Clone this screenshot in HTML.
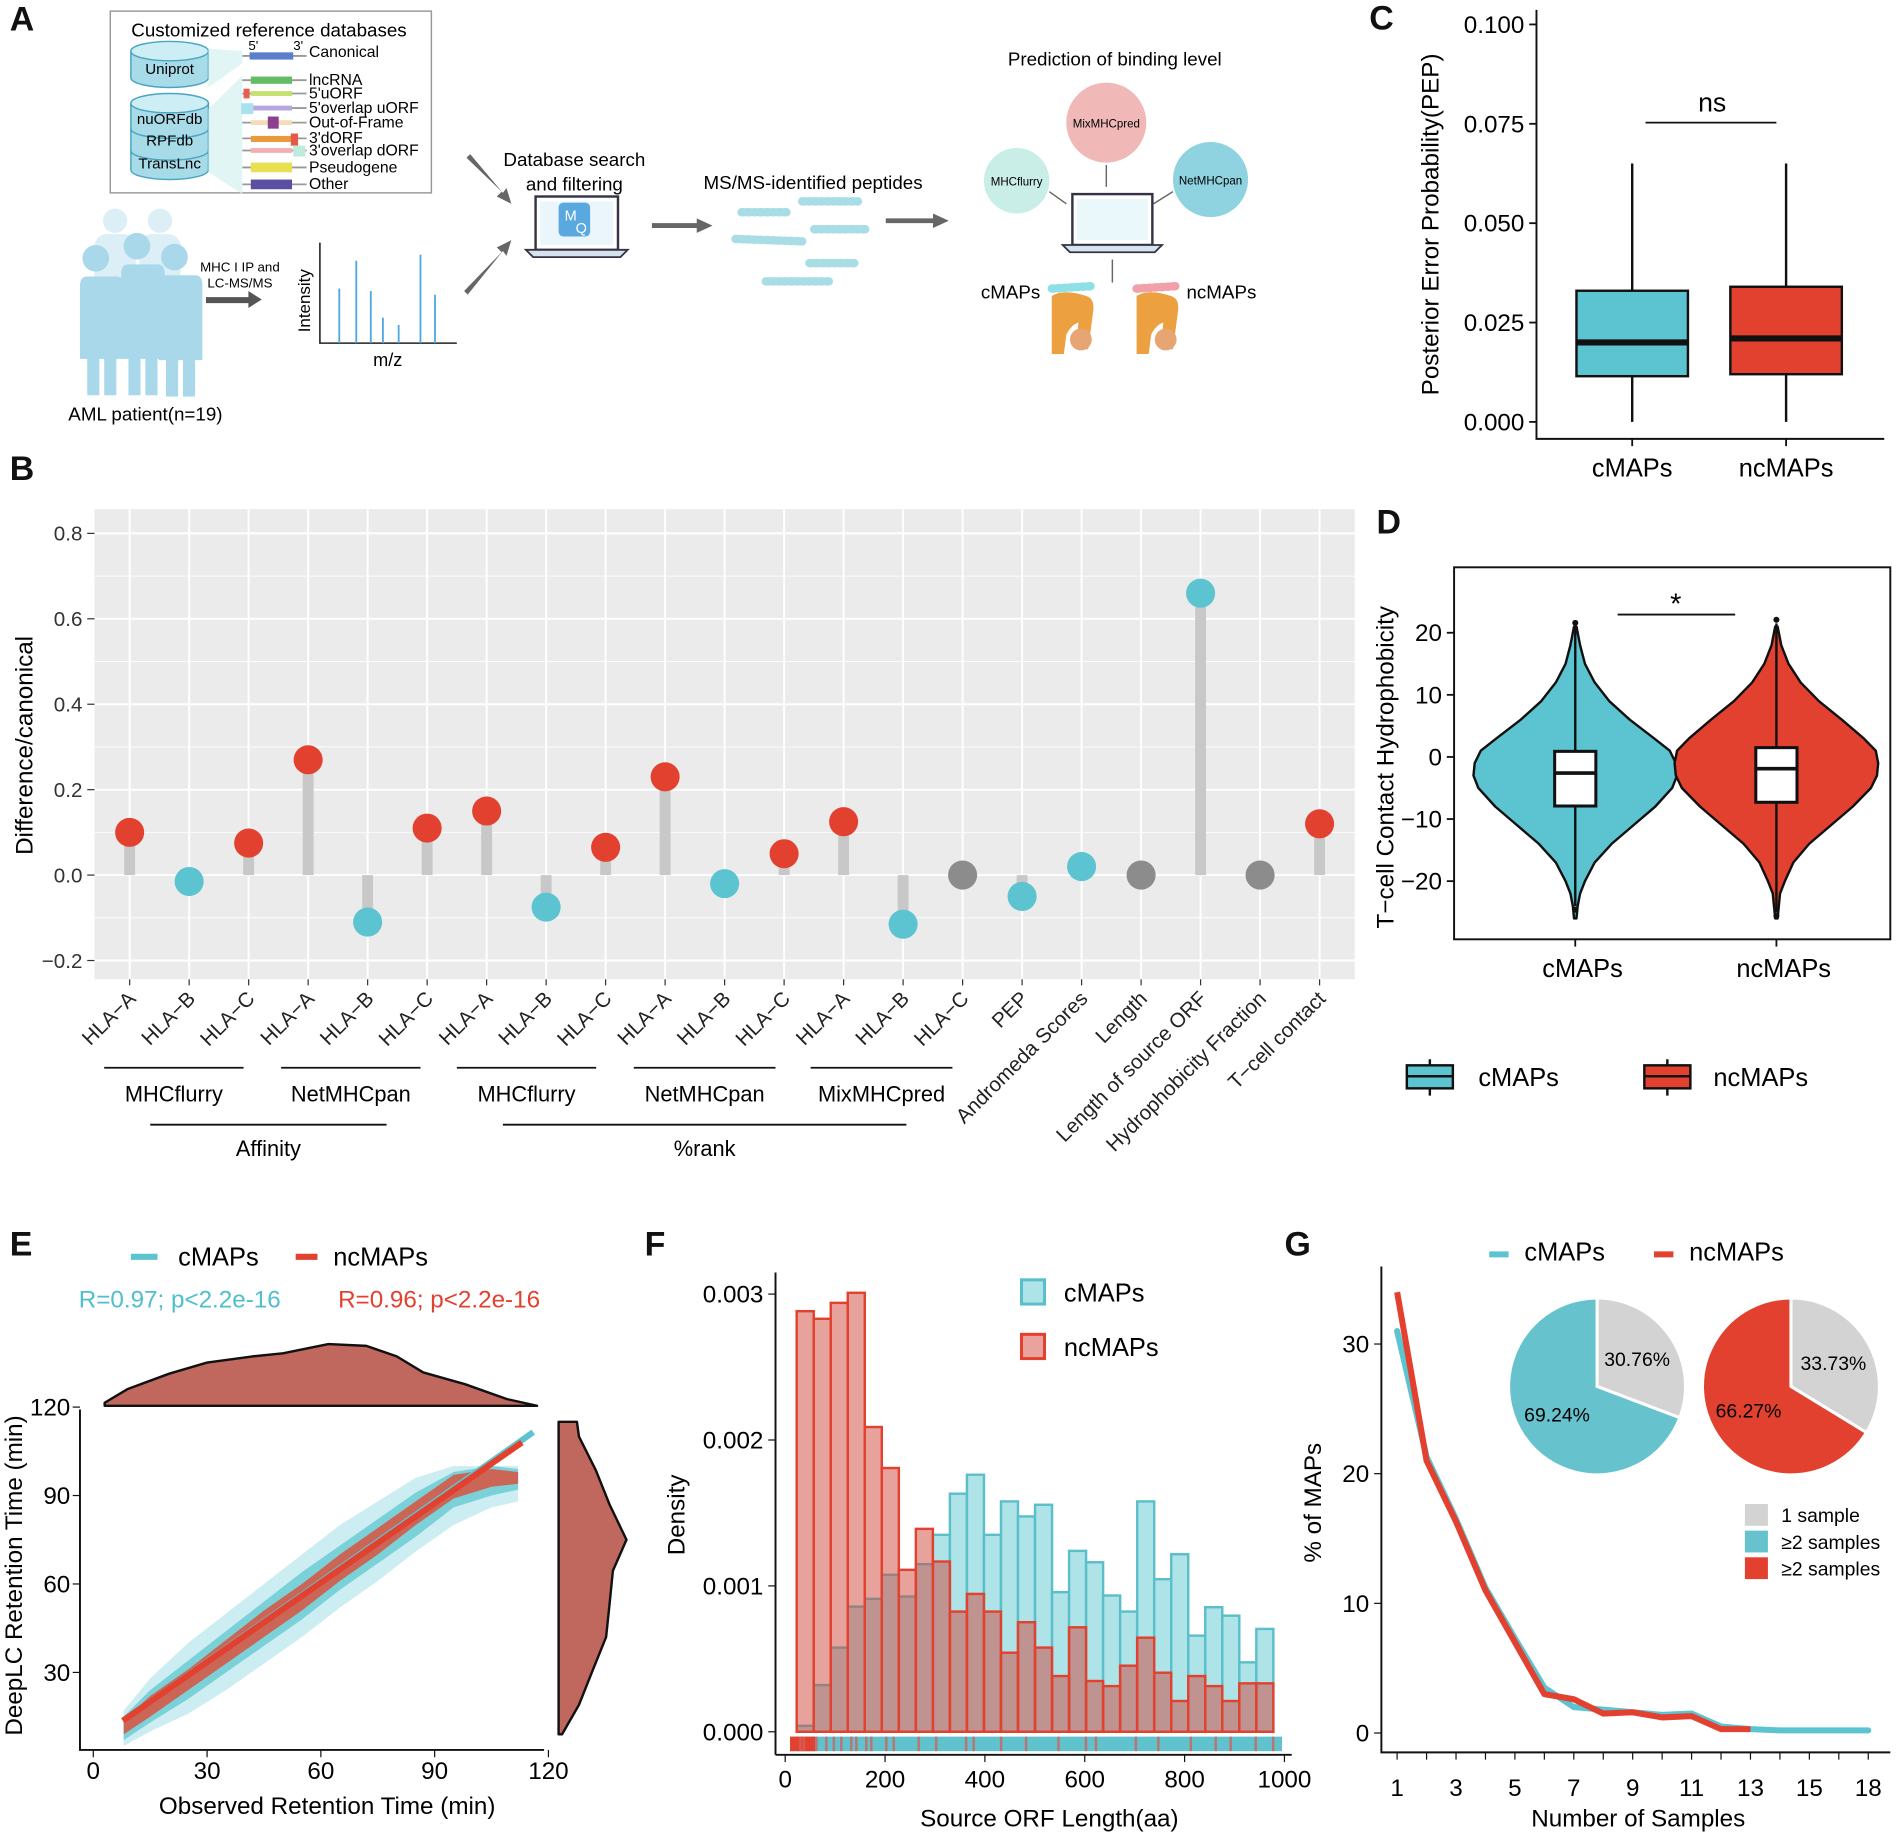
<!DOCTYPE html>
<html><head><meta charset="utf-8">
<style>
html,body{margin:0;padding:0;background:#fff;}
svg{display:block;font-family:"Liberation Sans",Arial,sans-serif;}
</style></head>
<body>
<svg id="fig" width="1900" height="1835" viewBox="0 0 1568 1514" xmlns="http://www.w3.org/2000/svg">
<g font-weight="bold" font-size="28" fill="#111">
<text x="8" y="25">A</text>
<text x="8" y="396">B</text>
<text x="1130" y="24">C</text>
<text x="1136" y="440">D</text>
<text x="8" y="1036">E</text>
<text x="532" y="1036">F</text>
<text x="1060" y="1036">G</text>
</g>

<g id="panelA">
 <rect x="91" y="9" width="265" height="150" fill="#fff" stroke="#999" stroke-width="1.2"/>
 <text x="222" y="30" font-size="15.5" text-anchor="middle">Customized reference databases</text>
 <g>
  <path d="M108 42 v22 a32 8 0 0 0 64 0 v-22" fill="#a8dbe8" stroke="#4aa5c0" stroke-width="1.2"/>
  <ellipse cx="140" cy="42" rx="32" ry="8" fill="#cdeef5" stroke="#4aa5c0" stroke-width="1.2"/>
  <text x="140" y="61" font-size="12.5" text-anchor="middle">Uniprot</text>
 </g>
 <g>
  <path d="M108 85 v55 a32 8 0 0 0 64 0 v-55" fill="#a8dbe8" stroke="#4aa5c0" stroke-width="1.2"/>
  <path d="M108 106 a32 8 0 0 0 64 0 M108 124 a32 8 0 0 0 64 0" fill="none" stroke="#4aa5c0" stroke-width="1.2"/>
  <ellipse cx="140" cy="85" rx="32" ry="8" fill="#cdeef5" stroke="#4aa5c0" stroke-width="1.2"/>
  <text x="140" y="102" font-size="12.5" text-anchor="middle">nuORFdb</text>
  <text x="140" y="120" font-size="12.5" text-anchor="middle">RPFdb</text>
  <text x="140" y="139" font-size="12.5" text-anchor="middle">TransLnc</text>
 </g>
 <path d="M172 40 L200 42 L200 52 L172 72 Z" fill="#d9f3f2" opacity="0.8"/>
 <path d="M172 90 L200 62 L200 160 L172 142 Z" fill="#d9f3f2" opacity="0.8"/>
 <g font-size="13">
  <text x="205" y="41" font-size="11">5'</text><text x="242" y="41" font-size="11">3'</text>
  <line x1="200" y1="46" x2="253" y2="46" stroke="#999" stroke-width="1.5"/><rect x="206" y="43" width="36" height="6" fill="#5b7fcf"/><text x="255" y="47">Canonical</text>
  <line x1="200" y1="66" x2="253" y2="66" stroke="#999" stroke-width="1.5"/><rect x="207" y="63" width="34" height="6" fill="#63bc66"/><text x="255" y="70">lncRNA</text>
  <line x1="200" y1="77" x2="253" y2="77" stroke="#999" stroke-width="1.5"/><rect x="207" y="75" width="34" height="4" fill="#c6e06e"/><rect x="201" y="73" width="5" height="8" fill="#e46050"/><text x="255" y="81">5'uORF</text>
  <line x1="200" y1="89" x2="253" y2="89" stroke="#999" stroke-width="1.5"/><rect x="207" y="87" width="34" height="4" fill="#b5a8e0"/><rect x="199" y="85" width="10" height="9" fill="#a9e1ef"/><text x="255" y="93">5'overlap uORF</text>
  <line x1="200" y1="101" x2="253" y2="101" stroke="#999" stroke-width="1.5"/><rect x="207" y="99" width="34" height="4" fill="#f5dcb8"/><rect x="221" y="96" width="9" height="10" fill="#8b3f8c"/><text x="255" y="105">Out-of-Frame</text>
  <line x1="200" y1="114" x2="253" y2="114" stroke="#999" stroke-width="1.5"/><rect x="207" y="112" width="34" height="5" fill="#eb9a3a"/><rect x="240" y="110" width="6" height="10" fill="#e45a4a"/><text x="255" y="118">3'dORF</text>
  <line x1="200" y1="124" x2="253" y2="124" stroke="#999" stroke-width="1.5"/><rect x="207" y="122" width="34" height="4" fill="#f2b0b0"/><rect x="242" y="120" width="10" height="9" fill="#bfeadc"/><text x="255" y="128">3'overlap dORF</text>
  <line x1="200" y1="138" x2="253" y2="138" stroke="#999" stroke-width="1.5"/><rect x="207" y="134" width="34" height="8" fill="#e8e050"/><text x="255" y="142">Pseudogene</text>
  <line x1="200" y1="152" x2="253" y2="152" stroke="#999" stroke-width="1.5"/><rect x="207" y="148" width="34" height="8" fill="#5a4fa0"/><text x="255" y="156">Other</text>
 </g>
 <g>
  <g fill="#dceef6">
   <circle cx="95" cy="182" r="10"/><rect x="78" y="193" width="34" height="90" rx="10"/>
   <circle cx="132" cy="182" r="10"/><rect x="115" y="193" width="34" height="90" rx="10"/>
  </g>
  <g fill="#a9d8ea">
   <circle cx="79" cy="213" r="11"/><path d="M62 228 h34 q6 0 6 8 v60 h-6 v30 h-10 v-30 h-4 v30 h-10 v-30 h-6 v-60 q0 -8 6 -8z"/>
   <circle cx="113" cy="203" r="11"/><path d="M96 218 h34 q6 0 6 8 v70 h-6 v30 h-10 v-30 h-4 v30 h-10 v-30 h-6 v-70 q0 -8 6 -8z"/>
   <circle cx="144" cy="212" r="11"/><path d="M127 227 h34 q6 0 6 8 v62 h-6 v30 h-10 v-30 h-4 v30 h-10 v-30 h-6 v-62 q0 -8 6 -8z"/>
  </g>
  <text x="120" y="347" font-size="15.5" text-anchor="middle">AML patient(n=19)</text>
 </g>
 <text x="198" y="224" font-size="11" text-anchor="middle">MHC I IP and</text>
 <text x="198" y="237" font-size="11" text-anchor="middle">LC-MS/MS</text>
 <path d="M170 245 L205 245 L205 240 L216 247 L205 254 L205 250 L170 250 Z" fill="#555"/>
 <g>
  <polyline points="264,200 264,283 377,283" fill="none" stroke="#222" stroke-width="1.3"/>
  <g stroke="#4ea8e0" stroke-width="1.5">
   <line x1="280" y1="283" x2="280" y2="238"/><line x1="294" y1="283" x2="294" y2="215"/><line x1="306" y1="283" x2="306" y2="240"/>
   <line x1="316" y1="283" x2="316" y2="262"/><line x1="329" y1="283" x2="329" y2="268"/><line x1="347" y1="283" x2="347" y2="210"/><line x1="359" y1="283" x2="359" y2="243"/>
  </g>
  <text x="256" y="248" font-size="14" text-anchor="middle" transform="rotate(-90 256 248)">Intensity</text>
  <text x="320" y="302" font-size="15" text-anchor="middle">m/z</text>
 </g>
 <path d="M383 240 L414 208 L410 204 L422 198 L418 211 L415 207 L386 243 Z" fill="#666"/>
 <path d="M385 130 L414 158 L410 162 L422 168 L418 155 L415 159 L388 127 Z" fill="#666"/>
 <text x="474" y="137" font-size="15.5" text-anchor="middle">Database search</text>
 <text x="474" y="157" font-size="15.5" text-anchor="middle">and filtering</text>
 <g>
  <rect x="442" y="162" width="68" height="44" fill="#fff" stroke="#334" stroke-width="2"/>
  <rect x="446" y="166" width="60" height="36" fill="#eaf6fb"/>
  <path d="M434 206 h84 l-6 6 h-72 z" fill="#d6e2ee" stroke="#334" stroke-width="1.5"/>
  <rect x="461" y="167" width="26" height="28" rx="4" fill="#5aa8e0"/>
  <text x="466" y="182" font-size="12" fill="#fff">M</text><text x="475" y="192" font-size="12" fill="#fff">Q</text>
 </g>
 <path d="M538 184 L575 184 L575 180 L588 186 L575 192 L575 188 L538 188 Z" fill="#666"/>
 <text x="671" y="156" font-size="15.5" text-anchor="middle">MS/MS-identified peptides</text>
 <g stroke="#a9dde6" stroke-width="7" stroke-linecap="round" stroke-dasharray="2 3">
  <line x1="612" y1="175" x2="650" y2="175"/><line x1="662" y1="166" x2="708" y2="166"/>
  <line x1="607" y1="197" x2="662" y2="199"/><line x1="672" y1="189" x2="714" y2="189"/>
  <line x1="668" y1="217" x2="706" y2="217"/><line x1="632" y1="232" x2="686" y2="232"/>
 </g>
 <path d="M731 180 L770 180 L770 176 L783 182 L770 188 L770 184 L731 184 Z" fill="#666"/>
 <text x="920" y="54" font-size="15.5" text-anchor="middle">Prediction of binding level</text>
 <circle cx="913" cy="101" r="33" fill="#f0b9b8"/>
 <text x="913" y="105" font-size="9.5" text-anchor="middle">MixMHCpred</text>
 <circle cx="839" cy="149" r="27" fill="#c9ede7"/>
 <text x="839" y="153" font-size="9.5" text-anchor="middle">MHCflurry</text>
 <circle cx="999" cy="148" r="31" fill="#8fd3e0"/>
 <text x="999" y="152" font-size="9.5" text-anchor="middle">NetMHCpan</text>
 <g stroke="#666" stroke-width="1.2" fill="none">
  <line x1="913" y1="136" x2="913" y2="154"/><line x1="866" y1="158" x2="880" y2="168"/><line x1="968" y1="158" x2="952" y2="168"/>
  <line x1="918" y1="214" x2="918" y2="233"/>
 </g>
 <g>
  <rect x="885" y="160" width="66" height="42" fill="#fff" stroke="#334" stroke-width="2"/>
  <rect x="889" y="164" width="58" height="34" fill="#eaf7fb"/>
  <path d="M877 202 h82 l-6 6 h-70 z" fill="#d6e2ee" stroke="#334" stroke-width="1.5"/>
 </g>
 <text x="834" y="246" font-size="15.5" text-anchor="middle">cMAPs</text>
 <text x="1008" y="246" font-size="15.5" text-anchor="middle">ncMAPs</text>
 <g>
  <path d="M868 244 q10 -6 28 0 q8 2 6 14 l-4 30 h-10 l2 -22 q-6 2 -10 10 l-2 16 h-10 z" fill="#eda040"/>
  <circle cx="892" cy="280" r="9" fill="#e7a574"/>
  <path d="M938 244 q10 -6 28 0 q8 2 6 14 l-4 30 h-10 l2 -22 q-6 2 -10 10 l-2 16 h-10 z" fill="#eda040"/>
  <circle cx="962" cy="280" r="9" fill="#e7a574"/>
  <line x1="868" y1="238" x2="900" y2="236" stroke="#8ee0e6" stroke-width="7" stroke-dasharray="2 3" stroke-linecap="round"/>
  <line x1="938" y1="238" x2="970" y2="236" stroke="#f0a0a8" stroke-width="7" stroke-dasharray="2 3" stroke-linecap="round"/>
 </g>
</g>

<g id="panelB"></g>
<g id="panelC"></g>
<g id="panelD"></g>
<g id="panelE"></g>
<g id="panelF"></g>
<g id="panelG"></g>
</svg>

<script>
const NS='http://www.w3.org/2000/svg';
function mk(p,tag,attrs,text){const e=document.createElementNS(NS,tag);for(const k in attrs)e.setAttribute(k,attrs[k]);if(text!=null)e.textContent=text;p.appendChild(e);return e;}
const CY='#5bc4d0', RD='#e2412f', GR='#8c8c8c';

/* ---------- Panel B data ---------- */
const bCats=['HLA−A','HLA−B','HLA−C','HLA−A','HLA−B','HLA−C','HLA−A','HLA−B','HLA−C','HLA−A','HLA−B','HLA−C','HLA−A','HLA−B','HLA−C','PEP','Andromeda Scores','Length','Length of source ORF','Hydrophobicity Fraction','T−cell contact'];
const bVals=[0.10,-0.015,0.075,0.27,-0.11,0.11,0.15,-0.075,0.065,0.23,-0.02,0.05,0.125,-0.115,0,-0.05,0.02,0,0.66,0,0.12];
const bColor=['r','c','r','r','c','r','r','c','r','r','c','r','r','c','g','c','c','g','c','g','r'];
const bTicks=[-0.2,0,0.2,0.4,0.6,0.8];
const bTickLabels=['−0.2','0.0','0.2','0.4','0.6','0.8'];
/* ---------- Panel C data ---------- */
const cGroups=['cMAPs','ncMAPs'];
const cQ1=[0.0115,0.012], cMed=[0.020,0.021], cQ3=[0.033,0.034], cLo=[0,0], cHi=[0.065,0.065];
const cTicks=[0,0.025,0.05,0.075,0.1];
const cTickLabels=['0.000','0.025','0.050','0.075','0.100'];
/* ---------- Panel D data ---------- */
const dGroups=['cMAPs','ncMAPs'];
const dYs=[-26,-24,-22,-20,-17,-14,-11,-8,-5,-3,-1,1,3,6,9,12,15,18,21];
const dWidthC=[1,2,4,8,16,30,48,66,80,84,83,78,65,45,28,16,8,4,1];
const dWidthN=[1,2,3,7,14,27,45,63,78,83,84,82,72,54,35,20,10,4,1];
const dQ1=[-7.9,-7.3], dMed=[-2.6,-1.9], dQ3=[0.9,1.5], dWLo=[-24,-25], dWHi=[21,21.5];
const dTicks=[-20,-10,0,10,20];
/* ---------- Panel E data ---------- */
const eBandX=[8,15,25,35,45,55,65,75,85,95,105,112];
const eOuterLo=[5,10,16,24,33,42,52,61,71,80,86,88];
const eOuterHi=[17,28,40,50,60,70,80,88,96,100,100,100];
const eCyanLo=[7,13,21,30,39,48,58,67,76,86,90,92];
const eCyanHi=[15,24,34,44,54,64,73,82,91,98,100,99];
const eRedLo=[9,15,24,33,42,51,61,70,80,89,93,94];
const eRedHi=[14,22,31,41,51,60,70,79,88,97,99,98];
const eFitCX=[7.8,116], eFitCY=[13.6,111.5];
const eFitRX=[7.8,113], eFitRY=[13.6,108];
const eTopX=[3,9,20,30,42,50,62,72,80,87,98,109,117];
const eTopD=[0.05,0.27,0.52,0.7,0.8,0.85,1.0,0.97,0.8,0.54,0.35,0.11,0];
const eRightY=[115,115,110,98.5,87,75,64.5,53,42,30.6,19,9];
const eRightD=[0,0.27,0.3,0.55,0.75,1.0,0.8,0.75,0.7,0.5,0.3,0.05];
const eTicks=[0,30,60,90,120];
/* ---------- Panel F data ---------- */
const fBinStart=23, fBinW=34.1;
const fRed=[.002883,.002831,.00294,.003009,.002089,.001808,.00111,.001391,.001167,.000824,.000945,.000824,.000542,.000751,.000577,.000382,.000716,.000348,.000313,.000453,.000645,.000405,.000211,.000382,.000313,.000211,.000332,.000332];
const fCyan=[.000041,.00032,.000577,.000858,.000911,.001076,.000927,.001149,.00135,.001632,.001762,.00135,.001579,.001476,.001556,.000957,.00124,.001162,.000934,.000824,.001579,.001046,.001217,.000659,.000854,.000796,.000476,.000705];
const fRugRed=[28,35,60,80,95,110,130,140,160,170,200,215,265,300,360,375,430,480,545,600,620,700,745,810,860,890,940,975];
const fXTicks=[0,200,400,600,800,1000];
const fYTicks=[0,0.001,0.002,0.003];
const fYTickLabels=['0.000','0.001','0.002','0.003'];
/* ---------- Panel G data ---------- */
const gCats=['1','2','3','4','5','6','7','8','9','10','11','12','13','14','15','16','18'];
const gCyan=[31,21.3,16.5,11.2,7.3,3.5,2.0,1.8,1.6,1.4,1.5,0.5,0.3,0.2,0.2,0.2,0.2];
const gRed=[34,21,16.3,11,7,3,2.6,1.5,1.6,1.2,1.3,0.3,0.3];
const gYTicks=[0,10,20,30];
const gXLabelShown=['1','3','5','7','9','11','13','15','18'];
const pieC=[30.76,69.24], pieR=[33.73,66.27];

/* ================= Panel B ================= */
(function(){
const g=document.getElementById('panelB');
const x=i=>107+i*49.1, y=v=>722-v*352.5;
const bg=mk(g,'rect',{x:78,y:420,width:1040,height:388,fill:'#ebebeb'});


for(let v=-0.3;v<=0.85;v+=0.1){const yy=y(v);if(yy<420||yy>808)continue;mk(g,'line',{x1:78,x2:1118,y1:yy,y2:yy,stroke:'#fff','stroke-width':Math.abs(Math.round(v*10))%2===0?1.6:0.7});}
bCats.forEach((c,i)=>mk(g,'line',{x1:x(i),x2:x(i),y1:420,y2:808,stroke:'#fff','stroke-width':1.6}));
bTicks.forEach((t,k)=>{
 mk(g,'line',{x1:72,x2:78,y1:y(t),y2:y(t),stroke:'#333'});
 const tl=mk(g,'text',{x:68,y:y(t)+6,'font-size':17,'text-anchor':'end',fill:'#333'},bTickLabels[k]);
 
 
});
const yt=mk(g,'text',{x:27,y:615,'font-size':20,'text-anchor':'middle',transform:'rotate(-90 27 615)'},'Difference/canonical');


bVals.forEach((v,i)=>{
 const seg=mk(g,'line',{x1:x(i),x2:x(i),y1:y(0),y2:y(v),stroke:'#c8c8c8','stroke-width':9});
 
 
 const col=bColor[i]==='r'?RD:bColor[i]==='c'?CY:GR;
 const dot=mk(g,'circle',{cx:x(i),cy:y(v),r:12,fill:col});
 
 
});
bCats.forEach((c,i)=>{
 mk(g,'line',{x1:x(i),x2:x(i),y1:808,y2:813,stroke:'#333'});
 const t=mk(g,'text',{x:x(i)+6,y:825,'font-size':17,'text-anchor':'end',fill:'#222',transform:`rotate(-45 ${x(i)+6} 825)`},c);
 
 
});
const brackets=[[86,201,'MHCflurry'],[232,347,'NetMHCpan'],[377,492,'MHCflurry'],[523,640,'NetMHCpan'],[669,786,'MixMHCpred']];
brackets.forEach(b=>{
 mk(g,'line',{x1:b[0],x2:b[1],y1:881,y2:881,stroke:'#111','stroke-width':1.5});
 const t=mk(g,'text',{x:(b[0]+b[1])/2,y:909,'font-size':18,'text-anchor':'middle'},b[2]);
 
 
});
[[124,319,'Affinity'],[415,748,'%rank']].forEach(b=>{
 mk(g,'line',{x1:b[0],x2:b[1],y1:928,y2:928,stroke:'#111','stroke-width':1.5});
 const t=mk(g,'text',{x:(b[0]+b[1])/2,y:954,'font-size':18,'text-anchor':'middle'},b[2]);
 
 
});
})();

/* ================= Panel C ================= */
(function(){
const g=document.getElementById('panelC');
const y=v=>348-v*3280, xc=[1347,1474];
mk(g,'polyline',{points:'1268,8 1268,362 1555,362',fill:'none',stroke:'#111','stroke-width':1.6});
cTicks.forEach((t,k)=>{
 mk(g,'line',{x1:1262,x2:1268,y1:y(t),y2:y(t),stroke:'#111','stroke-width':1.5});
 const tl=mk(g,'text',{x:1258,y:y(t)+7,'font-size':20,'text-anchor':'end'},cTickLabels[k]);
 
 
});
const yt=mk(g,'text',{x:1187,y:185,'font-size':20,'text-anchor':'middle',transform:'rotate(-90 1187 185)'},'Posterior Error Probability(PEP)');


cGroups.forEach((c,i)=>{
 const col=i===0?CY:RD;
 mk(g,'line',{x1:xc[i],x2:xc[i],y1:y(cLo[i]),y2:y(cHi[i]),stroke:'#111','stroke-width':2});
 const box=mk(g,'rect',{x:xc[i]-46,y:y(cQ3[i]),width:92,height:y(cQ1[i])-y(cQ3[i]),fill:col,stroke:'#111','stroke-width':2});
 
 
 mk(g,'line',{x1:xc[i]-46,x2:xc[i]+46,y1:y(cMed[i]),y2:y(cMed[i]),stroke:'#111','stroke-width':5});
 mk(g,'line',{x1:xc[i],x2:xc[i],y1:362,y2:368,stroke:'#111','stroke-width':1.5});
 const t=mk(g,'text',{x:xc[i],y:393,'font-size':21,'text-anchor':'middle'},c);
 
 
});
mk(g,'line',{x1:1358,x2:1466,y1:101,y2:101,stroke:'#111','stroke-width':1.5});
const ns=mk(g,'text',{x:1413,y:92,'font-size':22,'text-anchor':'middle'},'ns');


})();

/* ================= Panel D ================= */
(function(){
const g=document.getElementById('panelD');
const y=v=>624.5-v*5.125, xc=[1300,1466];
mk(g,'rect',{x:1200,y:468,width:360,height:307,fill:'none',stroke:'#111','stroke-width':1.6});
dTicks.forEach(t=>{
 mk(g,'line',{x1:1194,x2:1200,y1:y(t),y2:y(t),stroke:'#111','stroke-width':1.5});
 const tl=mk(g,'text',{x:1190,y:y(t)+7,'font-size':20,'text-anchor':'end'},String(t).replace('-','−'));
 
 
});
const yt=mk(g,'text',{x:1150,y:633,'font-size':20,'text-anchor':'middle',transform:'rotate(-90 1150 633)'},'T−cell Contact Hydrophobicity');


dGroups.forEach((c,i)=>{
 const W=i===0?dWidthC:dWidthN, col=i===0?CY:RD, cx=xc[i];
 let d='M'+cx+' '+y(dYs[0]);
 dYs.forEach((v,k)=>{d+=' L'+(cx+W[k])+' '+y(v);});
 for(let k=dYs.length-1;k>=0;k--){d+=' L'+(cx-W[k])+' '+y(dYs[k]);}
 d+='Z';
 const vp=mk(g,'path',{d:d,fill:col,stroke:'#111','stroke-width':2,'stroke-linejoin':'round'});
 
 
 mk(g,'line',{x1:cx,x2:cx,y1:y(dWLo[i]),y2:y(dWHi[i]),stroke:'#111','stroke-width':2});
 mk(g,'circle',{cx:cx,cy:y(dWLo[i])+3,r:2.5,fill:'#111'});
 mk(g,'circle',{cx:cx,cy:y(dWHi[i])-3,r:2.5,fill:'#111'});
 const bx=mk(g,'rect',{x:cx-17,y:y(dQ3[i]),width:34,height:y(dQ1[i])-y(dQ3[i]),fill:'#fff',stroke:'#111','stroke-width':2.5});
 
 
 mk(g,'line',{x1:cx-17,x2:cx+17,y1:y(dMed[i]),y2:y(dMed[i]),stroke:'#111','stroke-width':3});
 mk(g,'line',{x1:cx,x2:cx,y1:775,y2:781,stroke:'#111','stroke-width':1.5});
 const t=mk(g,'text',{x:cx+6,y:806,'font-size':21,'text-anchor':'middle'},c);
 
 
});
mk(g,'line',{x1:1335,x2:1432,y1:507,y2:507,stroke:'#111','stroke-width':1.5});
const st=mk(g,'text',{x:1383,y:506,'font-size':24,'text-anchor':'middle'},'*');


[[1180,CY,'cMAPs',1220],[1376,RD,'ncMAPs',1414]].forEach(l=>{
 mk(g,'line',{x1:l[0],x2:l[0],y1:874,y2:904,stroke:'#111','stroke-width':2});
 const k=mk(g,'rect',{x:l[0]-19,y:879,width:38,height:19,fill:l[1],stroke:'#111','stroke-width':2});
 
 
 mk(g,'line',{x1:l[0]-19,x2:l[0]+19,y1:888,y2:888,stroke:'#111','stroke-width':2});
 const t=mk(g,'text',{x:l[3],y:896,'font-size':21},l[2]);
 
 
});
})();

/* ================= Panel E ================= */
(function(){
const g=document.getElementById('panelE');
const x=v=>77+v*3.13, y=v=>1453-v*2.433;
mk(g,'polyline',{points:'66,1163 66,1444 449,1444',fill:'none',stroke:'#111','stroke-width':1.6});
eTicks.forEach(t=>{
 mk(g,'line',{x1:x(t),x2:x(t),y1:1444,y2:1450,stroke:'#111'});
 const tl=mk(g,'text',{x:x(t),y:1468,'font-size':20,'text-anchor':'middle'},String(t));
 
 
 if(t>0){
  mk(g,'line',{x1:60,x2:66,y1:y(t),y2:y(t),stroke:'#111'});
  const yl=mk(g,'text',{x:58,y:y(t)+7,'font-size':20,'text-anchor':'end'},String(t));
  
  
 }
});
const xt=mk(g,'text',{x:270,y:1497,'font-size':20,'text-anchor':'middle'},'Observed Retention Time (min)');


const yt=mk(g,'text',{x:18,y:1300,'font-size':20,'text-anchor':'middle',transform:'rotate(-90 18 1300)'},'DeepLC Retention Time (min)');


function band(lo,hi,fill,op,name){
 let d='M'+x(eBandX[0])+' '+y(lo[0]);
 eBandX.forEach((v,k)=>{d+=' L'+x(v)+' '+y(lo[k]);});
 for(let k=eBandX.length-1;k>=0;k--)d+=' L'+x(eBandX[k])+' '+y(hi[k]);
 const p=mk(g,'path',{d:d+'Z',fill:fill,opacity:op});
 
 
}
band(eOuterLo,eOuterHi,'#8fd8df',0.45,'scatter-cloud-outer');
band(eCyanLo,eCyanHi,'#6ccbd4',0.85,'scatter-cloud-cyan');
band(eRedLo,eRedHi,'#d9523f',0.85,'scatter-cloud-red');
const lc=mk(g,'line',{x1:x(eFitCX[0]),y1:y(eFitCY[0]),x2:x(eFitCX[1]),y2:y(eFitCY[1]),stroke:CY,'stroke-width':5});


const lr=mk(g,'line',{x1:x(eFitRX[0]),y1:y(eFitRY[0]),x2:x(eFitRX[1]),y2:y(eFitRY[1]),stroke:RD,'stroke-width':5});


let d='M'+x(eTopX[0])+' 1160';
eTopX.forEach((v,k)=>{d+=' L'+x(v)+' '+(1160-eTopD[k]*51);});
d+=' L'+x(eTopX[eTopX.length-1])+' 1160 Z';
const tm=mk(g,'path',{d:d,fill:'#c0675e',stroke:'#111','stroke-width':2,'stroke-linejoin':'round'});


let d2='M461 '+y(eRightY[0]);
eRightY.forEach((v,k)=>{d2+=' L'+(461+eRightD[k]*56)+' '+y(v);});
d2+=' L461 '+y(eRightY[eRightY.length-1])+' Z';
const rm=mk(g,'path',{d:d2,fill:'#c0675e',stroke:'#111','stroke-width':2,'stroke-linejoin':'round'});


mk(g,'line',{x1:108,x2:130,y1:1037,y2:1037,stroke:CY,'stroke-width':5});
const l1=mk(g,'text',{x:147,y:1044,'font-size':21},'cMAPs');


mk(g,'line',{x1:244,x2:262,y1:1037,y2:1037,stroke:RD,'stroke-width':5});
const l2=mk(g,'text',{x:275,y:1044,'font-size':21},'ncMAPs');


const r1=mk(g,'text',{x:65,y:1079,'font-size':20,fill:'#4fbfcc'},'R=0.97; p<2.2e-16');


const r2=mk(g,'text',{x:279,y:1079,'font-size':20,fill:RD},'R=0.96; p<2.2e-16');


})();

/* ================= Panel F ================= */
(function(){
const g=document.getElementById('panelF');
const x=v=>648+v*0.412, y=v=>1429-v*120400;
mk(g,'line',{x1:640,x2:640,y1:1050,y2:1448,stroke:'#111','stroke-width':1.6});
mk(g,'line',{x1:640,x2:1066,y1:1448,y2:1448,stroke:'#111','stroke-width':1.6});
fYTicks.forEach((t,k)=>{
 mk(g,'line',{x1:634,x2:640,y1:y(t),y2:y(t),stroke:'#111'});
 const tl=mk(g,'text',{x:630,y:y(t)+7,'font-size':20,'text-anchor':'end'},fYTickLabels[k]);
 
 
});
fXTicks.forEach(t=>{
 mk(g,'line',{x1:x(t),x2:x(t),y1:1448,y2:1454,stroke:'#111'});
 const tl=mk(g,'text',{x:x(t),y:1475,'font-size':20,'text-anchor':'middle'},String(t));
 
 
});
const xt=mk(g,'text',{x:866,y:1507,'font-size':20,'text-anchor':'middle'},'Source ORF Length(aa)');


const yt=mk(g,'text',{x:565,y:1250,'font-size':20,'text-anchor':'middle',transform:'rotate(-90 565 1250)'},'Density');


fCyan.forEach((v,i)=>{
 const x0=x(fBinStart+i*fBinW), w=fBinW*0.412;
 const b=mk(g,'rect',{x:x0,y:y(v),width:w,height:y(0)-y(v),fill:'#aee3e8',stroke:'#5bbfca','stroke-width':2});
 
 
});
fRed.forEach((v,i)=>{
 const x0=x(fBinStart+i*fBinW), w=fBinW*0.412;
 const b=mk(g,'rect',{x:x0,y:y(v),width:w,height:y(0)-y(v),fill:'rgba(208,69,55,0.5)',stroke:'#e2412f','stroke-width':2});
 
 
});
const rug=mk(g,'rect',{x:652,y:1433,width:406,height:12,fill:'#5fc2cc'});


mk(g,'rect',{x:652,y:1433,width:x(60)-652,height:12,fill:'#e2412f'});
fRugRed.forEach(v=>{
 const r=mk(g,'rect',{x:x(v),y:1433,width:2,height:12,fill:'#d2605a',opacity:0.8});
 
 
});
[[1056,'#aee3e8','#5bbfca','cMAPs'],[1101,'#e9a39c','#e2412f','ncMAPs']].forEach(l=>{
 const k=mk(g,'rect',{x:843,y:l[0],width:19,height:20,fill:l[1],stroke:l[2],'stroke-width':2.5});
 
 
 const t=mk(g,'text',{x:878,y:l[0]+18,'font-size':21},l[3]);
 
 
});
})();

/* ================= Panel G ================= */
(function(){
const g=document.getElementById('panelG');
const x=k=>1153+k*24.3, y=v=>1430-v*10.7;
mk(g,'polyline',{points:'1140,1045 1140,1446 1560,1446',fill:'none',stroke:'#111','stroke-width':1.6});
gYTicks.forEach(t=>{
 mk(g,'line',{x1:1134,x2:1140,y1:y(t),y2:y(t),stroke:'#111'});
 const tl=mk(g,'text',{x:1130,y:y(t)+7,'font-size':20,'text-anchor':'end'},String(t));
 
 
});
gCats.forEach((c,k)=>{
 mk(g,'line',{x1:x(k),x2:x(k),y1:1446,y2:1452,stroke:'#111'});
 if(gXLabelShown.indexOf(c)>=0){
  const tl=mk(g,'text',{x:x(k),y:1482,'font-size':20,'text-anchor':'middle'},c);
  
  
 }
});
const xt=mk(g,'text',{x:1352,y:1507,'font-size':20,'text-anchor':'middle'},'Number of Samples');


const yt=mk(g,'text',{x:1090,y:1240,'font-size':20,'text-anchor':'middle',transform:'rotate(-90 1090 1240)'},'% of MAPs');


const lc=mk(g,'polyline',{points:gCyan.map((v,i)=>x(i)+','+y(v)).join(' '),fill:'none',stroke:CY,'stroke-width':5,'stroke-linejoin':'round','stroke-linecap':'round'});


const lr=mk(g,'polyline',{points:gRed.map((v,i)=>x(i)+','+y(v)).join(' '),fill:'none',stroke:RD,'stroke-width':5,'stroke-linejoin':'round'});


function pie(cx,cy,r,vals,col,name){
 let a0=-Math.PI/2;
 vals.forEach((v,k)=>{
  const a1=a0+v/100*2*Math.PI, large=v>50?1:0;
  const d=`M${cx} ${cy} L${cx+r*Math.cos(a0)} ${cy+r*Math.sin(a0)} A${r} ${r} 0 ${large} 1 ${cx+r*Math.cos(a1)} ${cy+r*Math.sin(a1)} Z`;
  const p=mk(g,'path',{d:d,fill:k===0?'#d3d3d3':col,stroke:'#fff','stroke-width':2.5});
  
  
  const am=(a0+a1)/2;
  const t=mk(g,'text',{x:cx+r*0.55*Math.cos(am),y:cy+r*0.55*Math.sin(am)+6,'font-size':16,'text-anchor':'middle'},v.toFixed(2)+'%');
  
  
  a0=a1;
 });
}
pie(1318,1144,73,pieC,'#66c2cc','pie-cmaps');
pie(1478,1144,73,pieR,'#e2412f','pie-ncmaps');
mk(g,'line',{x1:1229,x2:1245,y1:1035,y2:1035,stroke:CY,'stroke-width':5});
const l1=mk(g,'text',{x:1258,y:1040,'font-size':21},'cMAPs');


mk(g,'line',{x1:1365,x2:1381,y1:1035,y2:1035,stroke:RD,'stroke-width':5});
const l2=mk(g,'text',{x:1394,y:1040,'font-size':21},'ncMAPs');


[[1250,'#d3d3d3','1 sample'],[1272,'#66c2cc','≥2 samples'],[1294,'#e2412f','≥2 samples']].forEach(l=>{
 const k=mk(g,'rect',{x:1440,y:l[0]-9,width:19,height:18,fill:l[1]});
 
 
 const t=mk(g,'text',{x:1470,y:l[0]+6,'font-size':16},l[2]);
 
 
});
})();
</script>
</body></html>
